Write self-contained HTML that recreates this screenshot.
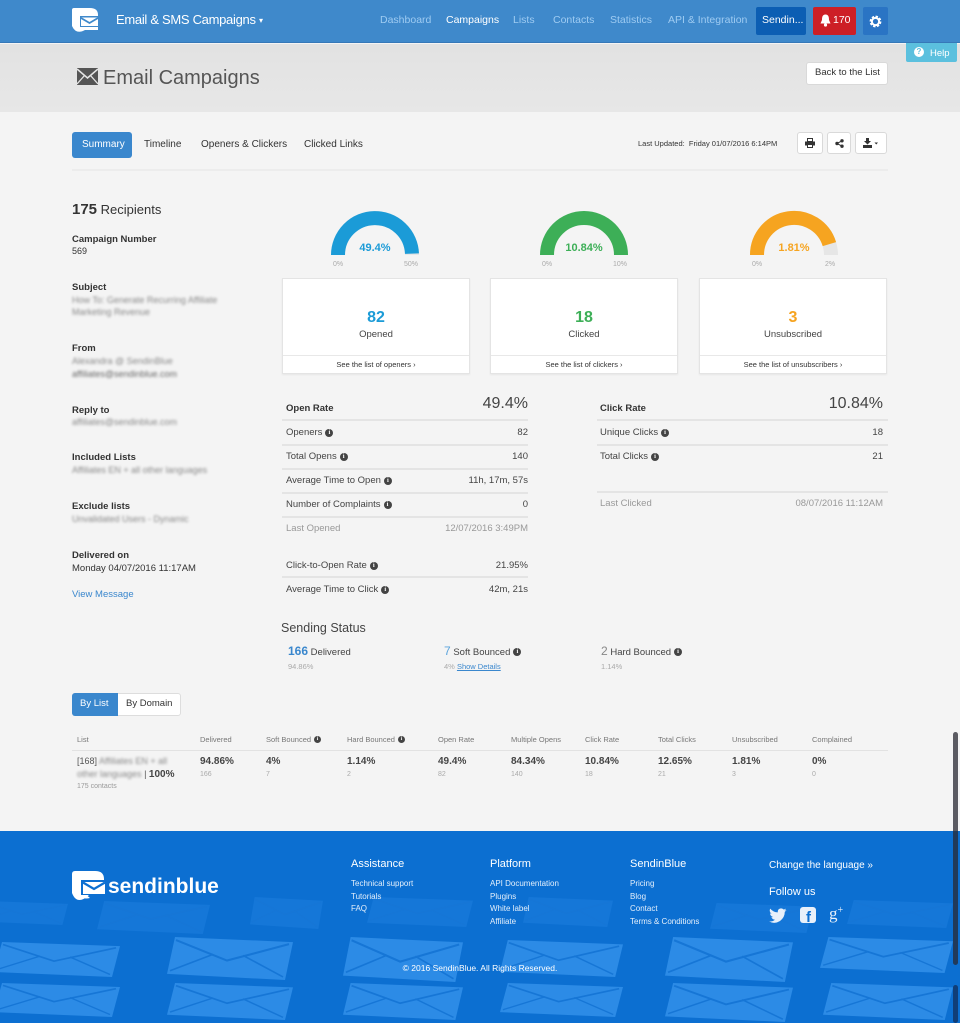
<!DOCTYPE html>
<html><head><meta charset="utf-8">
<style>
*{margin:0;padding:0;box-sizing:border-box}
html,body{width:960px;height:1023px;overflow:hidden}
body{position:relative;background:#f4f4f4;font-family:"Liberation Sans",Arial,sans-serif;color:#444}
.t{position:absolute;white-space:nowrap;line-height:1}
.b{font-weight:bold}
.ic{display:inline-block;width:8px;height:8px;border-radius:50%;background:#444;color:#fff;font-size:6.5px;line-height:8px;text-align:center;font-style:normal;font-weight:bold;vertical-align:top;margin-top:1px;margin-left:3px;font-family:"Liberation Serif",serif}
.blur{color:#888;filter:blur(1.3px)}
.hl{position:absolute;height:2px;background:#e4e4e4}
.card{position:absolute;top:278px;width:188px;height:96px;background:#fff;border:1px solid #e4e4e4;box-shadow:0 1px 2px rgba(0,0,0,.06)}
.card .n{position:absolute;left:0;right:0;top:31px;text-align:center;font-size:16px;font-weight:bold;line-height:1}
.card .l{position:absolute;left:0;right:0;top:51px;text-align:center;font-size:9.5px;color:#444;line-height:1}
.card .d{position:absolute;left:0;right:0;top:76px;height:1px;background:#e8e8e8}
.card .k{position:absolute;left:0;right:0;top:82px;text-align:center;font-size:7.5px;color:#333;line-height:1}
.btn{position:absolute;background:#fff;border:1px solid #d9d9d9;border-radius:3px}
.nav{font-size:10.5px;top:15px;color:#9ecbf2}
.th{font-size:7.5px;color:#777;top:736px}
.th .ic{width:7px;height:7px;line-height:7px;font-size:5.5px;margin-top:0}
.tv{font-size:10px;font-weight:bold;color:#444;top:757px}
.ts{font-size:7px;color:#aaa;top:771px}
.fh{font-size:11px;color:#fff;top:859px}
.fl{font-size:8px;color:#e4effb}
</style></head><body>

<!-- HEADER -->
<div style="position:absolute;left:0;top:0;width:960px;height:43px;background:#3f89cb;border-bottom:1px solid #3678b8"></div>
<svg style="position:absolute;left:72px;top:8px" width="27" height="27" viewBox="0 0 27 27">
<path d="M2,0 H18 Q26,0 26,7 V22 H13 Q0,22 0,10 V2 Q0,0 2,0Z" fill="#fff"/>
<path d="M13,22 Q4,27 0,18 V10 Z" fill="#fff"/>
<rect x="8" y="8" width="19" height="11" fill="#3f89cb"/>
<path d="M9,9.5 H26 V18 H9Z" fill="#fff"/>
<polyline points="9,10 17.5,15 26,10" fill="none" stroke="#3f89cb" stroke-width="1.8"/>
</svg>
<div class="t" style="left:116px;top:13px;font-size:13px;color:#fff;letter-spacing:-0.3px">Email &amp; SMS Campaigns <span style="font-size:8px;vertical-align:1px">▾</span></div>
<div class="t nav" style="left:380px">Dashboard</div>
<div class="t nav" style="left:446px;color:#fff">Campaigns</div>
<div class="t nav" style="left:513px">Lists</div>
<div class="t nav" style="left:553px">Contacts</div>
<div class="t nav" style="left:610px">Statistics</div>
<div class="t nav" style="left:668px">API &amp; Integration</div>
<div style="position:absolute;left:756px;top:7px;width:50px;height:28px;background:#0c5eb3;border-radius:2px"></div>
<div class="t" style="left:762px;top:15px;font-size:10.5px;color:#fff">Sendin...</div>
<div style="position:absolute;left:813px;top:7px;width:43px;height:28px;background:#cd1f26;border-radius:2px"></div>
<svg style="position:absolute;left:820px;top:14px" width="11" height="13" viewBox="0 0 11 13"><path d="M5.5,0.5 C8.5,0.5 9,3 9,6 L10.5,9.5 H0.5 L2,6 C2,3 2.5,0.5 5.5,0.5Z" fill="#fff"/><circle cx="5.5" cy="11" r="1.6" fill="#fff"/></svg>
<div class="t" style="left:833px;top:15px;font-size:10.5px;color:#fff">170</div>
<div style="position:absolute;left:863px;top:7px;width:25px;height:28px;background:#2a74c4;border-radius:2px"></div>
<svg style="position:absolute;left:869px;top:15px" width="13" height="13" viewBox="0 0 13 13"><circle cx="6.5" cy="6.5" r="4.6" fill="none" stroke="#fff" stroke-width="2.6" stroke-dasharray="2.2 1.4"/><circle cx="6.5" cy="6.5" r="3.6" fill="none" stroke="#fff" stroke-width="2"/></svg>

<!-- BANNER -->
<div style="position:absolute;left:0;top:44px;width:960px;height:68px;background:linear-gradient(#e2e2e2,#e7e7e7)"></div>
<div style="position:absolute;left:906px;top:43px;width:51px;height:19px;background:#5bc0de;border-radius:0 0 2px 2px"></div>
<div style="position:absolute;left:914px;top:47px;width:10px;height:10px;border-radius:50%;background:#fff;color:#5bc0de;font-size:8px;font-weight:bold;text-align:center;line-height:10px">?</div>
<div class="t" style="left:930px;top:49px;font-size:9.5px;color:#fff">Help</div>
<svg style="position:absolute;left:77px;top:68px" width="21" height="17" viewBox="0 0 21 17"><rect x="0" y="0" width="21" height="17" fill="#555"/><polyline points="0,1 10.5,10 21,1" fill="none" stroke="#e5e5e5" stroke-width="1.6"/><line x1="0" y1="16" x2="7.5" y2="7.5" stroke="#e5e5e5" stroke-width="1.3"/><line x1="21" y1="16" x2="13.5" y2="7.5" stroke="#e5e5e5" stroke-width="1.3"/></svg>
<div class="t" style="left:103px;top:68px;font-size:20px;color:#555">Email Campaigns</div>
<div class="btn" style="left:806px;top:62px;width:82px;height:23px"></div>
<div class="t" style="left:815px;top:68px;font-size:9.5px;color:#333">Back to the List</div>

<!-- TABS -->
<div style="position:absolute;left:72px;top:132px;width:60px;height:26px;background:#3a87cd;border-radius:3px"></div>
<div class="t" style="left:82px;top:140px;font-size:10px;color:#fff">Summary</div>
<div class="t" style="left:144px;top:140px;font-size:10px;color:#333">Timeline</div>
<div class="t" style="left:201px;top:140px;font-size:10px;color:#333">Openers &amp; Clickers</div>
<div class="t" style="left:304px;top:140px;font-size:10px;color:#333">Clicked Links</div>
<div class="t" style="left:638px;top:140px;font-size:7.5px;color:#333">Last Updated:&nbsp; Friday 01/07/2016 6:14PM</div>
<div class="btn" style="left:797px;top:132px;width:26px;height:22px"></div>
<svg style="position:absolute;left:805px;top:138px" width="10" height="10" viewBox="0 0 10 10"><rect x="2.5" y="0.5" width="5" height="3" fill="none" stroke="#333"/><rect x="0" y="3.5" width="10" height="4" fill="#333"/><rect x="2.5" y="6.5" width="5" height="3" fill="#fff" stroke="#333"/></svg>
<div class="btn" style="left:827px;top:132px;width:24px;height:22px"></div>
<svg style="position:absolute;left:835px;top:139px" width="9" height="9" viewBox="0 0 9 9"><circle cx="7" cy="1.8" r="1.7" fill="#333"/><circle cx="2" cy="4.5" r="1.7" fill="#333"/><circle cx="7" cy="7.2" r="1.7" fill="#333"/><path d="M7,1.8 L2,4.5 L7,7.2" stroke="#333" fill="none"/></svg>
<div class="btn" style="left:855px;top:132px;width:32px;height:22px"></div>
<svg style="position:absolute;left:863px;top:138px" width="16" height="10" viewBox="0 0 16 10"><path d="M3,0 H6 V3 H8 L4.5,6.5 L1,3 H3Z" fill="#333"/><rect x="0" y="7" width="9" height="3" fill="#333"/><path d="M11.5,4.5 H15 L13.25,6.5Z" fill="#333"/></svg>
<div class="hl" style="left:72px;top:169px;width:816px;height:2px;background:#ececec"></div>

<!-- LEFT COLUMN -->
<div class="t" style="left:72px;top:202px;font-size:13px;color:#333"><b style="font-size:15px">175</b> Recipients</div>
<div class="t b" style="left:72px;top:235px;font-size:9.5px;color:#333">Campaign Number</div>
<div class="t" style="left:72px;top:247px;font-size:9px;color:#333">569</div>
<div class="t b" style="left:72px;top:283px;font-size:9.5px;color:#333">Subject</div>
<div class="t blur" style="left:72px;top:296px;font-size:9px">How To: Generate Recurring Affiliate</div>
<div class="t blur" style="left:72px;top:308px;font-size:9px">Marketing Revenue</div>
<div class="t b" style="left:72px;top:344px;font-size:9.5px;color:#333">From</div>
<div class="t blur" style="left:72px;top:357px;font-size:9px">Alexandra @ SendinBlue</div>
<div class="t blur" style="left:72px;top:370px;font-size:9px;color:#666">affiliates@sendinblue.com</div>
<div class="t b" style="left:72px;top:406px;font-size:9.5px;color:#333">Reply to</div>
<div class="t blur" style="left:72px;top:418px;font-size:9px">affiliates@sendinblue.com</div>
<div class="t b" style="left:72px;top:453px;font-size:9.5px;color:#333">Included Lists</div>
<div class="t blur" style="left:72px;top:466px;font-size:9px">Affiliates EN + all other languages</div>
<div class="t b" style="left:72px;top:502px;font-size:9.5px;color:#333">Exclude lists</div>
<div class="t blur" style="left:72px;top:515px;font-size:9px">Unvalidated Users - Dynamic</div>
<div class="t b" style="left:72px;top:551px;font-size:9.5px;color:#333">Delivered on</div>
<div class="t" style="left:72px;top:564px;font-size:9.5px;color:#333">Monday 04/07/2016 11:17AM</div>
<div class="t" style="left:72px;top:590px;font-size:9.5px;color:#3a87cd">View Message</div>

<!-- GAUGES -->
<svg style="position:absolute;left:0;top:200px" width="960" height="75" viewBox="0 200 960 75">
<path d="M338,255 A37,37 0 0 1 412,255" fill="none" stroke="#e6e6e6" stroke-width="14"/>
<path d="M338,255 A37,37 0 0 1 411.97,253.6" fill="none" stroke="#1b9bd7" stroke-width="14"/>
<path d="M547,255 A37,37 0 0 1 621,255" fill="none" stroke="#3daf57" stroke-width="14"/>
<path d="M757,255 A37,37 0 0 1 831,255" fill="none" stroke="#e6e6e6" stroke-width="14"/>
<path d="M757,255 A37,37 0 0 1 829.4,244.1" fill="none" stroke="#f6a420" stroke-width="14"/>
</svg>
<div class="t b" style="left:335px;width:80px;text-align:center;top:243px;font-size:11px;color:#1b9bd7">49.4%</div>
<div class="t b" style="left:544px;width:80px;text-align:center;top:243px;font-size:11px;color:#3daf57">10.84%</div>
<div class="t b" style="left:754px;width:80px;text-align:center;top:243px;font-size:11px;color:#f6a420">1.81%</div>
<div class="t" style="left:333px;top:261px;font-size:7px;color:#aaa">0%</div>
<div class="t" style="left:404px;top:261px;font-size:7px;color:#aaa">50%</div>
<div class="t" style="left:542px;top:261px;font-size:7px;color:#aaa">0%</div>
<div class="t" style="left:613px;top:261px;font-size:7px;color:#aaa">10%</div>
<div class="t" style="left:752px;top:261px;font-size:7px;color:#aaa">0%</div>
<div class="t" style="left:825px;top:261px;font-size:7px;color:#aaa">2%</div>

<!-- CARDS -->
<div class="card" style="left:282px"><div class="n" style="color:#1b9bd7">82</div><div class="l">Opened</div><div class="d"></div><div class="k">See the list of openers ›</div></div>
<div class="card" style="left:490px"><div class="n" style="color:#3daf57">18</div><div class="l">Clicked</div><div class="d"></div><div class="k">See the list of clickers ›</div></div>
<div class="card" style="left:699px"><div class="n" style="color:#f6a420">3</div><div class="l">Unsubscribed</div><div class="d"></div><div class="k">See the list of unsubscribers ›</div></div>

<!-- STATS LEFT -->
<div class="t b" style="left:286px;top:404px;font-size:9.5px;color:#333">Open Rate</div>
<div class="t" style="right:432px;top:396px;font-size:16px;color:#444">49.4%</div>
<div class="hl" style="left:282px;top:419px;width:246px"></div>
<div class="t" style="left:286px;top:428px;font-size:9.5px;color:#444">Openers<i class="ic">i</i></div>
<div class="t" style="right:432px;top:428px;font-size:9.5px;color:#444">82</div>
<div class="hl" style="left:282px;top:444px;width:246px"></div>
<div class="t" style="left:286px;top:452px;font-size:9.5px;color:#444">Total Opens<i class="ic">i</i></div>
<div class="t" style="right:432px;top:452px;font-size:9.5px;color:#444">140</div>
<div class="hl" style="left:282px;top:468px;width:246px"></div>
<div class="t" style="left:286px;top:476px;font-size:9.5px;color:#444">Average Time to Open<i class="ic">i</i></div>
<div class="t" style="right:432px;top:476px;font-size:9.5px;color:#444">11h, 17m, 57s</div>
<div class="hl" style="left:282px;top:492px;width:246px"></div>
<div class="t" style="left:286px;top:500px;font-size:9.5px;color:#444">Number of Complaints<i class="ic">i</i></div>
<div class="t" style="right:432px;top:500px;font-size:9.5px;color:#444">0</div>
<div class="hl" style="left:282px;top:516px;width:246px"></div>
<div class="t" style="left:286px;top:524px;font-size:9.5px;color:#999">Last Opened</div>
<div class="t" style="right:432px;top:524px;font-size:9.5px;color:#999">12/07/2016 3:49PM</div>
<div class="t" style="left:286px;top:561px;font-size:9.5px;color:#444">Click-to-Open Rate<i class="ic">i</i></div>
<div class="t" style="right:432px;top:561px;font-size:9.5px;color:#444">21.95%</div>
<div class="hl" style="left:282px;top:576px;width:246px"></div>
<div class="t" style="left:286px;top:585px;font-size:9.5px;color:#444">Average Time to Click<i class="ic">i</i></div>
<div class="t" style="right:432px;top:585px;font-size:9.5px;color:#444">42m, 21s</div>

<!-- STATS RIGHT -->
<div class="t b" style="left:600px;top:404px;font-size:9.5px;color:#333">Click Rate</div>
<div class="t" style="right:77px;top:396px;font-size:16px;color:#444">10.84%</div>
<div class="hl" style="left:597px;top:419px;width:291px"></div>
<div class="t" style="left:600px;top:428px;font-size:9.5px;color:#444">Unique Clicks<i class="ic">i</i></div>
<div class="t" style="right:77px;top:428px;font-size:9.5px;color:#444">18</div>
<div class="hl" style="left:597px;top:444px;width:291px"></div>
<div class="t" style="left:600px;top:452px;font-size:9.5px;color:#444">Total Clicks<i class="ic">i</i></div>
<div class="t" style="right:77px;top:452px;font-size:9.5px;color:#444">21</div>
<div class="hl" style="left:597px;top:491px;width:291px"></div>
<div class="t" style="left:600px;top:499px;font-size:9.5px;color:#999">Last Clicked</div>
<div class="t" style="right:77px;top:499px;font-size:9.5px;color:#999">08/07/2016 11:12AM</div>

<!-- SENDING STATUS -->
<div class="t" style="left:281px;top:622px;font-size:12.5px;color:#444">Sending Status</div>
<div class="t" style="left:288px;top:645px;font-size:9.5px;color:#444"><span style="font-size:12px;color:#3a87cd;font-weight:bold">166</span> Delivered</div>
<div class="t" style="left:288px;top:663px;font-size:7.5px;color:#aaa">94.86%</div>
<div class="t" style="left:444px;top:645px;font-size:9.5px;color:#444"><span style="font-size:12px;color:#5aa3dc">7</span> Soft Bounced<i class="ic" style="margin-top:3px">i</i></div>
<div class="t" style="left:444px;top:663px;font-size:7.5px;color:#aaa">4% <span style="color:#3a87cd;text-decoration:underline">Show Details</span></div>
<div class="t" style="left:601px;top:645px;font-size:9.5px;color:#444"><span style="font-size:12px;color:#888">2</span> Hard Bounced<i class="ic" style="margin-top:3px">i</i></div>
<div class="t" style="left:601px;top:663px;font-size:7.5px;color:#aaa">1.14%</div>

<!-- TOGGLE -->
<div style="position:absolute;left:72px;top:693px;width:109px;height:23px;background:#fff;border:1px solid #ddd;border-radius:3px"></div>
<div style="position:absolute;left:72px;top:693px;width:46px;height:23px;background:#3a87cd;border-radius:3px 0 0 3px"></div>
<div class="t" style="left:80px;top:699px;font-size:9.5px;color:#fff">By List</div>
<div class="t" style="left:126px;top:699px;font-size:9.5px;color:#333">By Domain</div>

<!-- TABLE -->
<div class="t th" style="left:77px">List</div>
<div class="t th" style="left:200px">Delivered</div>
<div class="t th" style="left:266px">Soft Bounced<i class="ic">i</i></div>
<div class="t th" style="left:347px">Hard Bounced<i class="ic">i</i></div>
<div class="t th" style="left:438px">Open Rate</div>
<div class="t th" style="left:511px">Multiple Opens</div>
<div class="t th" style="left:585px">Click Rate</div>
<div class="t th" style="left:658px">Total Clicks</div>
<div class="t th" style="left:732px">Unsubscribed</div>
<div class="t th" style="left:812px">Complained</div>
<div class="hl" style="left:72px;top:750px;width:816px;height:1px;background:#e2e2e2"></div>
<div class="t" style="left:77px;top:757px;font-size:9px;color:#555">[168] <span class="blur">Affiliates EN + all</span></div>
<div class="t" style="left:77px;top:770px;font-size:9px;color:#555"><span class="blur">other languages</span> | <b style="font-size:10px;color:#444">100%</b></div>
<div class="t" style="left:77px;top:783px;font-size:7px;color:#999">175 contacts</div>
<div class="t tv" style="left:200px">94.86%</div><div class="t ts" style="left:200px">166</div>
<div class="t tv" style="left:266px">4%</div><div class="t ts" style="left:266px">7</div>
<div class="t tv" style="left:347px">1.14%</div><div class="t ts" style="left:347px">2</div>
<div class="t tv" style="left:438px">49.4%</div><div class="t ts" style="left:438px">82</div>
<div class="t tv" style="left:511px">84.34%</div><div class="t ts" style="left:511px">140</div>
<div class="t tv" style="left:585px">10.84%</div><div class="t ts" style="left:585px">18</div>
<div class="t tv" style="left:658px">12.65%</div><div class="t ts" style="left:658px">21</div>
<div class="t tv" style="left:732px">1.81%</div><div class="t ts" style="left:732px">3</div>
<div class="t tv" style="left:812px">0%</div><div class="t ts" style="left:812px">0</div>

<!-- FOOTER -->
<div style="position:absolute;left:0;top:831px;width:960px;height:192px;background:#0c6fd1"></div>
<svg style="position:absolute;left:0;top:831px" width="960" height="192" viewBox="0 0 960 192">
<defs>
<symbol id="env" viewBox="0 0 126 42" preserveAspectRatio="none">
<polygon points="8,0 126,5 118,42 0,36" fill="currentColor"/>
<polyline points="9,3 60,23 122,7" fill="none" stroke="#1676d6" stroke-width="2"/>
<line x1="3" y1="33" x2="46" y2="17" stroke="#1676d6" stroke-width="1.6"/>
<line x1="116" y1="39" x2="76" y2="18" stroke="#1676d6" stroke-width="1.6"/>
</symbol>
</defs>
<g color="#1577d8">
<use href="#env" x="-20" y="70" width="88" height="24"/>
<use href="#env" x="97" y="70" width="113" height="33"/>
<use href="#env" x="250" y="66" width="73" height="32"/>
<use href="#env" x="367" y="66" width="106" height="30"/>
<use href="#env" x="523" y="66" width="90" height="30"/>
<use href="#env" x="710" y="72" width="103" height="30"/>
<use href="#env" x="847" y="69" width="106" height="28"/>
</g>
<g color="#2c8be6">
<use href="#env" x="-6" y="111" width="126" height="35"/>
<use href="#env" x="167" y="106" width="126" height="43"/>
<use href="#env" x="343" y="106" width="120" height="45"/>
<use href="#env" x="500" y="109" width="123" height="37"/>
<use href="#env" x="665" y="106" width="128" height="45"/>
<use href="#env" x="820" y="106" width="133" height="36"/>
<use href="#env" x="-6" y="152" width="126" height="34"/>
<use href="#env" x="167" y="152" width="126" height="37"/>
<use href="#env" x="343" y="152" width="120" height="37"/>
<use href="#env" x="500" y="152" width="123" height="34"/>
<use href="#env" x="665" y="152" width="128" height="39"/>
<use href="#env" x="823" y="152" width="130" height="37"/>
</g>
</svg>
<svg style="position:absolute;left:72px;top:871px" width="34" height="35" viewBox="0 0 34 35">
<path d="M3,0 H23 Q32,0 32,8 V24 H17 Q0,24 0,12 V3 Q0,0 3,0Z" fill="#fff"/>
<path d="M17,24 Q5,35 0,22 V12 Z" fill="#fff"/>
<path d="M8,13 Q4,30 18,27 L12,22Z" fill="#fff"/>
<rect x="9" y="9" width="25" height="15" fill="#0c6fd1"/>
<path d="M11,11 H33 V23 H11Z" fill="#fff"/>
<polyline points="11,11.5 22,18 33,11.5" fill="none" stroke="#0c6fd1" stroke-width="2.2"/>
</svg>
<div class="t b" style="left:108px;top:876px;font-size:21px;color:#fff">sendinblue</div>
<div class="t fh" style="left:351px">Assistance</div>
<div class="t fl" style="left:351px;top:880px">Technical support</div>
<div class="t fl" style="left:351px;top:893px">Tutorials</div>
<div class="t fl" style="left:351px;top:905px">FAQ</div>
<div class="t fh" style="left:490px">Platform</div>
<div class="t fl" style="left:490px;top:880px">API Documentation</div>
<div class="t fl" style="left:490px;top:893px">Plugins</div>
<div class="t fl" style="left:490px;top:905px">White label</div>
<div class="t fl" style="left:490px;top:918px">Affiliate</div>
<div class="t fh" style="left:630px">SendinBlue</div>
<div class="t fl" style="left:630px;top:880px">Pricing</div>
<div class="t fl" style="left:630px;top:893px">Blog</div>
<div class="t fl" style="left:630px;top:905px">Contact</div>
<div class="t fl" style="left:630px;top:918px">Terms &amp; Conditions</div>
<div class="t" style="left:769px;top:861px;font-size:10px;color:#fff">Change the language »</div>
<div class="t" style="left:769px;top:887px;font-size:11px;color:#fff">Follow us</div>
<svg style="position:absolute;left:769px;top:908px" width="18" height="15" viewBox="0 0 18 15"><path d="M17.5,2 Q16.5,2.5 15.5,2.6 Q16.7,1.8 17,0.6 Q15.8,1.3 14.6,1.5 Q13,0 10.8,0.6 Q8.5,1.5 8.8,4.4 Q4.2,4.2 1.2,0.6 Q-0.2,3.5 2.6,5.8 Q1.8,5.8 1,5.3 Q1.2,8.3 4.2,9 Q3.3,9.3 2.4,9.1 Q3.3,11.5 6,11.7 Q3.4,13.8 0,13.4 Q5.5,16.5 11,13 Q15.8,9.5 15.8,3.8 Q16.9,3 17.5,2Z" fill="#e8f0fa"/></svg>
<div style="position:absolute;left:800px;top:907px;width:16px;height:16px;background:#e8f0fa;border-radius:3px;overflow:hidden"><div class="t b" style="left:6px;top:3px;font-size:15px;color:#0c6fd1">f</div></div>
<div class="t" style="left:829px;top:905px;font-size:17px;color:#e8f0fa;font-family:'Liberation Serif',serif">g<span style="font-size:10px;vertical-align:6px">+</span></div>
<div class="t" style="left:0;width:960px;text-align:center;top:964px;font-size:8.5px;color:#fff">© 2016 SendinBlue. All Rights Reserved.</div>

<!-- SCROLLBAR -->
<div style="position:absolute;left:953px;top:732px;width:5px;height:233px;background:rgba(40,40,50,.75);border-radius:3px"></div>
<div style="position:absolute;left:953px;top:985px;width:5px;height:38px;background:rgba(20,30,60,.6);border-radius:3px"></div>
</body></html>
